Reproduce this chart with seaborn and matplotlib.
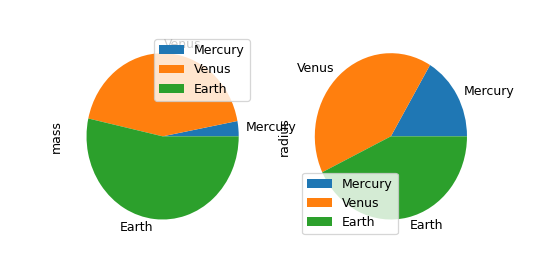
import matplotlib
matplotlib.use("Agg")
import matplotlib.pyplot as plt
import seaborn as sns

planets = ["Mercury", "Venus", "Earth"]
mass = [0.330, 4.87, 5.97]
radius = [2439.7, 6051.8, 6378.1]
series_names = ["mass", "radius"]

colors = sns.color_palette("tab10", 3)

fig, axes = plt.subplots(1, 2, figsize=(6, 3), dpi=90)
for ax, name, vals in zip(axes, series_names, [mass, radius]):
    ax.pie(vals, labels=planets, colors=colors)
    ax.set_aspect("auto")
    ax.set_ylabel(name)
axes[0].legend(loc="upper left", bbox_to_anchor=(0.455, 0.968), borderaxespad=0)
axes[1].legend(loc="lower left")
fig.savefig("out.png", dpi=90)
